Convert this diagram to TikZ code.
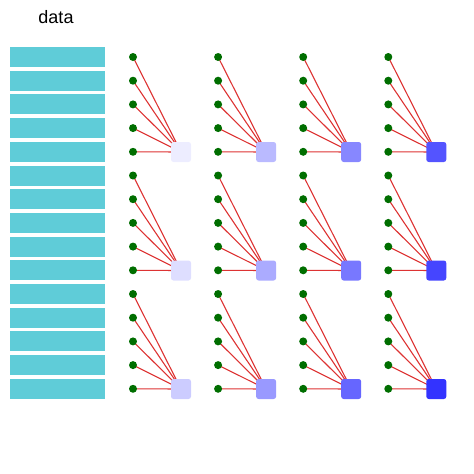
\documentclass[tikz,border=0pt]{standalone}
\usepackage{fontspec}
\setmainfont{Liberation Sans}
\usetikzlibrary{backgrounds}
\definecolor{barcol}{HTML}{5FCCD8}
\definecolor{dotcol}{HTML}{006E00}
\definecolor{wirecol}{HTML}{DD3333}

\begin{document}
\begin{tikzpicture}[x=1pt,y=-1pt,
  bar/.style={fill=barcol,minimum width=95pt,minimum height=20pt,inner sep=0},
  pt/.style={circle,fill=dotcol,minimum size=8pt,inner sep=0},
  cell/.style={rounded corners=2.5pt,minimum size=20pt,inner sep=0},
  wire/.style={wirecol,line width=1.1pt}]
\useasboundingbox (0,0) rectangle (474,474);
\node (title) at (56,17.5) {\fontsize{18}{20}\selectfont data};
\foreach \k in {1,...,15}
  \node[bar] (bar\k) at (57.5,{57+(\k-1)*23.7}) {};
\foreach \c in {1,...,4}
  \foreach \r in {1,2,3} {
    \pgfmathsetmacro\shade{int(round(((\c-1)*3+\r)*6.67))}
    \node[cell,fill=blue!\shade!white] (sq\r\c) at ({181+(\c-1)*85.1},{152+(\r-1)*118.5}) {};
    \foreach \i in {1,...,5}
      \node[pt] (p\r\c\i) at ({133+(\c-1)*85.1},{57+((\r-1)*5+\i-1)*23.7}) {};
    \begin{pgfonlayer}{background}
      \foreach \i in {1,...,5}
        \draw[wire] (p\r\c\i.center) -- (sq\r\c.center);
    \end{pgfonlayer}
  }
\end{tikzpicture}
\end{document}
